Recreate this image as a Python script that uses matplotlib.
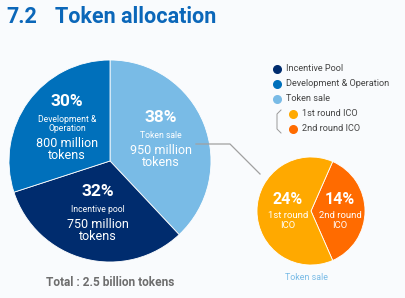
import matplotlib.pyplot as plt

# main allocation (percent of 2.5 billion)
main_labels = [["Token sale"], ["Incentive pool"], ["Development &", "Operation"]]
main_pct = [38, 32, 30]
main_tokens = ["950 million", "750 million", "800 million"]
main_colors = ["#79bbe6", "#002c6e", "#0070bb"]

# token sale split
sale_labels = ["2nd round", "1st round"]
sale_pct = [14, 24]
sale_colors = ["#ff6b00", "#ffa900"]

legend_labels = ["Incentive Pool", "Development & Operation", "Token sale",
                 "1st round ICO", "2nd round ICO"]
legend_colors = ["#002c6e", "#0070bb", "#79bbe6", "#ffa900", "#ff6b00"]

W, H = 406, 298
plt.rcParams['font.family'] = ['Roboto', 'DejaVu Sans']

fig = plt.figure(figsize=(W / 100, H / 100), dpi=100)
fig.patch.set_facecolor("#f9fbfd")
ax = fig.add_axes([0, 0, 1, 1])
ax.set_facecolor("#f9fbfd")


def Y(y):
    # image pixel row -> data y
    return H - y


# big pie
ax.pie(main_pct, colors=main_colors, startangle=90, counterclock=False,
       center=(110, Y(161)), radius=101,
       wedgeprops=dict(edgecolor="white", linewidth=0.6))

# small pie, 2nd round wedge centred on the right
start = -sale_pct[0] / sum(sale_pct) * 180
ax.pie(sale_pct, colors=sale_colors, startangle=start, counterclock=True,
       center=(311, Y(211)), radius=54,
       wedgeprops=dict(edgecolor="white", linewidth=0.6))

ax.set_xlim(0, W)
ax.set_ylim(0, H)
ax.set_aspect("equal")
ax.axis("off")

# title
fig.text(6 / W, 1 - 17 / H, "7.2", color="#0b67b9", fontsize=15.5,
         fontweight="bold", ha="left", va="center")
fig.text(55 / W, 1 - 17 / H, "Token allocation", color="#0b67b9", fontsize=15.5,
         fontweight="bold", ha="left", va="center")

# labels inside big pie: (x, pct row, label rows, token row)
pos = [(161, 118, [136], 151), (98, 192, [209], 224), (67, 102, [120, 128.5], 144)]
for (x, yp, ylabs, yt), labs, pct, tok in zip(pos, main_labels, main_pct, main_tokens):
    ax.text(x, Y(yp), f"{pct}%", color="white", fontsize=12.5, fontweight="bold",
            ha="center", va="center")
    for yl, lab in zip(ylabs, labs):
        ax.text(x, Y(yl), lab, color="white", fontsize=6.2,
                ha="center", va="center")
    ax.text(x, Y(yt), tok, color="white", fontsize=9,
            ha="center", va="center")
    ax.text(x, Y(yt + 12), "tokens", color="white", fontsize=9,
            ha="center", va="center")

ax.text(110, Y(283), "Total : 2.5 billion tokens", color="#6e6e6e", fontsize=8.6,
        fontweight="bold", ha="center", va="center")

# labels inside small pie
spos = [340, 288]
for x, lab, pct in zip(spos, sale_labels, sale_pct):
    ax.text(x, Y(200), f"{pct}%", color="white", fontsize=11.5, fontweight="bold",
            ha="center", va="center")
    ax.text(x, Y(216), lab, color="white", fontsize=6.8,
            ha="center", va="center")
    ax.text(x, Y(225.5), "ICO", color="white", fontsize=6.8,
            ha="center", va="center")

ax.text(307, Y(277), "Token sale", color="#79bbe6", fontsize=6.4,
        ha="center", va="center")

# connector line
ax.plot([196, 230, 260], [Y(144), Y(144), Y(174)], color="#a0a0a0", lw=0.9)

# legend
rows = [69, 84, 99, 114, 129]
for i, (lab, col, y) in enumerate(zip(legend_labels, legend_colors, rows)):
    mx = 277 if i < 3 else 293
    ax.scatter([mx], [Y(y)], s=30, color=col, zorder=3)
    ax.text(mx + 9, Y(y), lab, color="#444444", fontsize=6.6,
            ha="left", va="center")
ax.plot([281, 277, 277, 281], [Y(110), Y(114), Y(129), Y(133)],
        color="#999999", lw=0.7)

fig.savefig("out.png", dpi=100, facecolor=fig.get_facecolor())
